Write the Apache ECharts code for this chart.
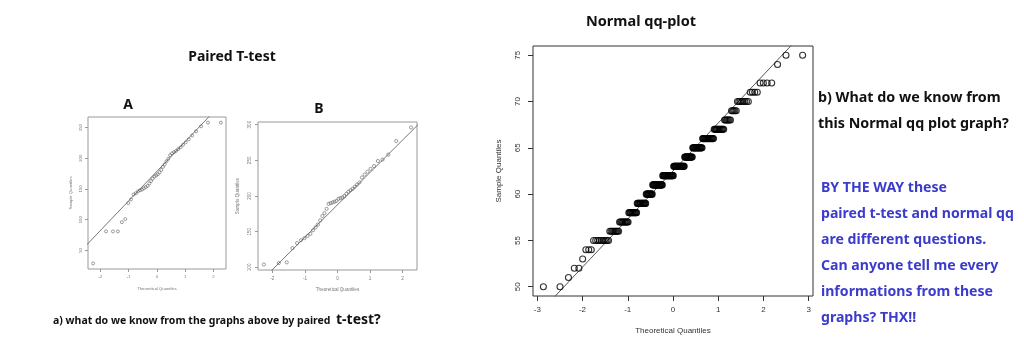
<!DOCTYPE html>
<html>
<head>
<meta charset="utf-8">
<script src="https://cdn.jsdelivr.net/npm/echarts@6/dist/echarts.min.js"></script>
<style>
html,body{margin:0;padding:0;background:#fff;}
#chart{width:1024px;height:345px;}
</style>
</head>
<body>
<div id="chart"></div>
<script>
// Group A sample, sorted (n = 42)
const sampleA = [29, 81, 81, 81, 96, 101, 127, 133, 141, 143, 146, 148, 149, 151,
  153, 155, 159, 163, 167, 170, 172, 174, 177, 181, 186, 190, 195, 199, 205, 208,
  210, 212, 215, 218, 222, 226, 231, 237, 244, 252, 258, 258];
// Group B sample, sorted (n = 42)
const sampleB = [104, 106, 107, 127, 134, 138, 141, 144, 147, 152, 156, 160, 166, 172,
  176, 182, 189, 190, 191, 192, 193, 196, 197, 198, 200, 203, 206, 208, 210, 213,
  216, 219, 226, 230, 234, 238, 242, 249, 251, 258, 277, 296];
// Scores for the normal qq-plot and how often each score occurs
const scoreValues = [50, 51, 52, 53, 54, 55, 56, 57, 58, 59, 60, 61, 62, 63, 64, 65, 66,
  67, 68, 69, 70, 71, 72, 73, 74, 75];
const scoreCounts = [2, 1, 2, 1, 3, 10, 9, 11, 12, 15, 12, 20, 23, 23, 16, 18, 18,
  13, 7, 5, 8, 4, 4, 0, 1, 2];
// Tick labels
const ticksAx = [-2, -1, 0, 1, 2];
const ticksAy = [50, 100, 150, 200, 250];
const ticksBx = [-2, -1, 0, 1, 2];
const ticksBy = [100, 150, 200, 250, 300];
const ticksMx = [-3, -2, -1, 0, 1, 2, 3];
const ticksMy = [50, 55, 60, 65, 70, 75];

// Inverse standard normal CDF (Acklam's rational approximation)
function qnorm(p) {
  const a = [-3.969683028665376e+01, 2.209460984245205e+02, -2.759285104469687e+02,
    1.383577518672690e+02, -3.066479806614716e+01, 2.506628277459239e+00];
  const b = [-5.447609879822406e+01, 1.615858368580409e+02, -1.556989798598866e+02,
    6.680131188771972e+01, -1.328068155288572e+01];
  const c = [-7.784894002430293e-03, -3.223964580411365e-01, -2.400758277161838e+00,
    -2.549732539343734e+00, 4.374664141464968e+00, 2.938163982698783e+00];
  const d = [7.784695709041462e-03, 3.224671290700398e-01, 2.445134137142996e+00,
    3.754408661907416e+00];
  const pl = 0.02425, ph = 1 - pl;
  let q, r;
  if (p < pl) {
    q = Math.sqrt(-2 * Math.log(p));
    return (((((c[0]*q+c[1])*q+c[2])*q+c[3])*q+c[4])*q+c[5]) /
           ((((d[0]*q+d[1])*q+d[2])*q+d[3])*q+1);
  }
  if (p > ph) {
    q = Math.sqrt(-2 * Math.log(1 - p));
    return -(((((c[0]*q+c[1])*q+c[2])*q+c[3])*q+c[4])*q+c[5]) /
            ((((d[0]*q+d[1])*q+d[2])*q+d[3])*q+1);
  }
  q = p - 0.5; r = q * q;
  return (((((a[0]*r+a[1])*r+a[2])*r+a[3])*r+a[4])*r+a[5]) * q /
         (((((b[0]*r+b[1])*r+b[2])*r+b[3])*r+b[4])*r+1);
}

// Plotting positions as in R's ppoints()
function ppoints(n) {
  const a = n <= 10 ? 3 / 8 : 0.5;
  const out = [];
  for (let i = 1; i <= n; i++) out.push((i - a) / (n + 1 - 2 * a));
  return out;
}

// Type-7 sample quantile of a sorted array
function quantile(sorted, p) {
  const h = (sorted.length - 1) * p;
  const lo = Math.floor(h), hi = Math.ceil(h);
  return sorted[lo] + (h - lo) * (sorted[hi] - sorted[lo]);
}

function extendRange(lo, hi) {
  const d = (hi - lo) * 0.04;
  return [lo - d, hi + d];
}

// Build the qq points, reference line and axis ranges for one sample
function qqData(values) {
  const s = values.slice().sort((u, v) => u - v);
  const theo = ppoints(s.length).map(qnorm);
  const pts = s.map((y, i) => [theo[i], y]);
  const q1 = quantile(s, 0.25), q3 = quantile(s, 0.75);
  const slope = (q3 - q1) / (qnorm(0.75) - qnorm(0.25));
  const icpt = q1 - slope * qnorm(0.25);
  const xr = extendRange(theo[0], theo[theo.length - 1]);
  const yr = extendRange(s[0], s[s.length - 1]);
  const line = [[xr[0] - 1, icpt + slope * (xr[0] - 1)], [xr[1] + 1, icpt + slope * (xr[1] + 1)]];
  return { pts, line, xr, yr };
}

const scores = [];
scoreValues.forEach((v, i) => { for (let k = 0; k < scoreCounts[i]; k++) scores.push(v); });

const qqA = qqData(sampleA);
const qqB = qqData(sampleB);
const qqM = qqData(scores);

const tickFont = 'Liberation Sans, Arial, sans-serif';

function xAxisCfg(gi, rng, ticks, st) {
  return {
    type: 'value', gridIndex: gi, min: rng[0], max: rng[1], position: 'bottom',
    axisLine: { show: false, onZero: false }, splitLine: { show: false },
    axisTick: { show: true, customValues: ticks, length: st.tick, lineStyle: { color: st.tickColor, width: 1 } },
    axisLabel: { customValues: ticks, fontSize: st.font, color: st.labelColor, margin: st.xMargin, fontFamily: tickFont },
    name: 'Theoretical Quantiles', nameLocation: 'middle', nameGap: st.xNameGap,
    nameTextStyle: { fontSize: st.font, color: st.labelColor, fontFamily: tickFont }
  };
}
function yAxisCfg(gi, rng, ticks, st) {
  return {
    type: 'value', gridIndex: gi, min: rng[0], max: rng[1], position: 'left',
    axisLine: { show: false, onZero: false }, splitLine: { show: false },
    axisTick: { show: true, customValues: ticks, length: st.tick, lineStyle: { color: st.tickColor, width: 1 } },
    axisLabel: { customValues: ticks, rotate: 90, fontSize: st.font, color: st.labelColor, margin: st.yMargin, fontFamily: tickFont },
    name: 'Sample Quantiles', nameLocation: 'middle', nameRotate: 90, nameGap: st.yNameGap,
    nameTextStyle: { fontSize: st.font, color: st.labelColor, fontFamily: tickFont }
  };
}

const smallA = { tick: 3, tickColor: '#999', labelColor: '#777', font: 4.2, xMargin: 6, yMargin: 5, xNameGap: 18, yNameGap: 15 };
const smallB = { tick: 3, tickColor: '#999', labelColor: '#777', font: 4.6, xMargin: 6, yMargin: 6, xNameGap: 17, yNameGap: 18 };
const mainSt = { tick: 5, tickColor: '#333', labelColor: '#333', font: 8, xMargin: 10, yMargin: 11, xNameGap: 31, yNameGap: 30 };

function pointSeries(gi, data, size, color, bw) {
  return {
    type: 'scatter', xAxisIndex: gi, yAxisIndex: gi, data: data, symbol: 'circle', symbolSize: size,
    itemStyle: { color: 'rgba(0,0,0,0)', borderColor: color, borderWidth: bw }, silent: true, z: 3
  };
}
function lineSeries(gi, data, color) {
  return {
    type: 'line', xAxisIndex: gi, yAxisIndex: gi, data: data, symbol: 'none', clip: true,
    lineStyle: { color: color, width: 1 }, silent: true, z: 2
  };
}

const bold = 'bold';
const uiFont = 'Noto Sans, sans-serif';
const blue = '#3b3bcc';
function txt(x, y, text, size, color, align) {
  return {
    type: 'text', x: x, y: y, silent: true,
    style: { text: text, fill: color, fontSize: size, fontWeight: bold, fontFamily: uiFont,
      textAlign: align || 'left', textVerticalAlign: 'middle' }
  };
}

const chart = echarts.init(document.getElementById('chart'), null, { renderer: 'canvas' });
chart.setOption({
  animation: false,
  backgroundColor: '#fff',
  grid: [
    { left: 88, top: 117, width: 138, height: 152, show: true, borderColor: '#999', borderWidth: 1, backgroundColor: 'transparent' },
    { left: 258, top: 122, width: 159, height: 148, show: true, borderColor: '#999', borderWidth: 1, backgroundColor: 'transparent' },
    { left: 533, top: 46, width: 280, height: 250, show: true, borderColor: '#333', borderWidth: 1, backgroundColor: 'transparent' }
  ],
  xAxis: [
    xAxisCfg(0, qqA.xr, ticksAx, smallA),
    xAxisCfg(1, qqB.xr, ticksBx, smallB),
    xAxisCfg(2, qqM.xr, ticksMx, mainSt)
  ],
  yAxis: [
    yAxisCfg(0, qqA.yr, ticksAy, smallA),
    yAxisCfg(1, qqB.yr, ticksBy, smallB),
    yAxisCfg(2, qqM.yr, ticksMy, mainSt)
  ],
  series: [
    lineSeries(0, qqA.line, '#777'),
    pointSeries(0, qqA.pts, 3, '#555', 0.7),
    lineSeries(1, qqB.line, '#777'),
    pointSeries(1, qqB.pts, 3.2, '#555', 0.7),
    lineSeries(2, qqM.line, '#555'),
    pointSeries(2, qqM.pts, 6, '#000', 1.1)
  ],
  graphic: [
    txt(232, 57, 'Paired T-test', 14, '#111', 'center'),
    txt(128, 105, 'A', 14, '#111', 'center'),
    txt(319, 109, 'B', 14, '#111', 'center'),
    txt(641, 22, 'Normal qq-plot', 14.5, '#111', 'center'),
    txt(53, 321, 'a) what do we know from the graphs above by paired', 10.5, '#111'),
    txt(336, 320, 't-test?', 14, '#111'),
    txt(818, 98, 'b) What do we know from', 14.3, '#111'),
    txt(818, 124, 'this Normal qq plot graph?', 14.3, '#111'),
    txt(821, 188, 'BY THE WAY these', 14.1, blue),
    txt(821, 214, 'paired t-test and normal qq', 14.1, blue),
    txt(821, 240, 'are different questions.', 14.1, blue),
    txt(821, 266, 'Can anyone tell me every', 14.1, blue),
    txt(821, 292, 'informations from these', 14.1, blue),
    txt(821, 318, 'graphs? THX!!', 14.1, blue)
  ]
});
</script>
</body>
</html>
